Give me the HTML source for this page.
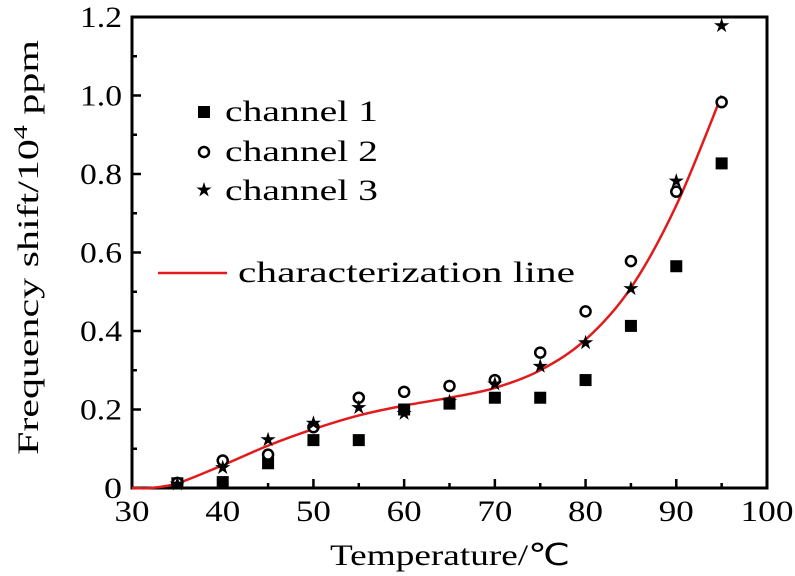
<!DOCTYPE html>
<html><head><meta charset="utf-8"><style>
body{margin:0;background:#fff;}
svg{display:block;font-family:"Liberation Serif",serif;}
</style></head><body>
<svg id="s" width="795" height="576" xmlns="http://www.w3.org/2000/svg"></svg>
<script>
const s=document.getElementById('s');
const X=v=>132+(v-30)*635/70, Y=v=>488-v*471/1.2;
let h='';
for(let v=30;v<=100;v+=5){const x=X(v);const L=v%10==0?9:5;h+=`<line x1="${x}" y1="488" x2="${x}" y2="${488-L}" stroke="#000" stroke-width="2.5"/>`;
 if(v%10==0){const w=v==100?53:35;h+=`<text x="${x-w/2}" y="521" font-size="30" textLength="${w}" lengthAdjust="spacingAndGlyphs">${v}</text>`;}}
for(let i=0;i<=12;i++){const v=i/10,y=Y(v);const L=i%2==0?9:5;h+=`<line x1="132" y1="${y}" x2="${132+L}" y2="${y}" stroke="#000" stroke-width="2.5"/>`;
 if(i%2==0){const t=i==0?'0':v.toFixed(1);const w=i==0?18:42;h+=`<text x="${122-w}" y="${y+10}" font-size="30" textLength="${w}" lengthAdjust="spacingAndGlyphs">${t}</text>`;}}
h+=`<rect x="132" y="17" width="635" height="471" fill="none" stroke="#000" stroke-width="3"/>`;
const lp=[[30,0],[32,0],[35,0.012],[40,0.058],[45,0.108],[50,0.15],[55,0.185],[60,0.21],[65,0.23],[70,0.255],[75,0.3],[80,0.378],[85,0.51],[90,0.72],[95,1.0]];
function cr(p){let o=`M${X(p[0][0])},${Y(p[0][1])}`;for(let i=0;i<p.length-1;i++){const p0=p[i-1]||p[i],p1=p[i],p2=p[i+1],p3=p[i+2]||p2;
 const c1=[X(p1[0])+(X(p2[0])-X(p0[0]))/6,Y(p1[1])+(Y(p2[1])-Y(p0[1]))/6],c2=[X(p2[0])-(X(p3[0])-X(p1[0]))/6,Y(p2[1])-(Y(p3[1])-Y(p1[1]))/6];
 o+=`C${c1[0].toFixed(1)},${c1[1].toFixed(1)} ${c2[0].toFixed(1)},${c2[1].toFixed(1)} ${X(p2[0]).toFixed(1)},${Y(p2[1]).toFixed(1)}`;}return o;}
h+=`<path d="${cr(lp)}" fill="none" stroke="#e31a1c" stroke-width="2.5"/>`;
const xs=[35,40,45,50,55,60,65,70,75,80,85,90,95];
const c1=[0.012,0.015,0.063,0.122,0.122,0.2,0.215,0.23,0.23,0.275,0.413,0.565,0.827];
const c2=[0.013,0.07,0.085,0.155,0.23,0.245,0.26,0.275,0.345,0.45,0.578,0.755,0.983];
const c3=[0.01,0.052,0.123,0.165,0.205,0.19,0.22,0.265,0.31,0.37,0.508,0.782,1.178];
const sq=(x,y)=>`<rect x="${x-6}" y="${y-6}" width="12" height="12" fill="#000"/>`;
const ci=(x,y)=>`<circle cx="${x}" cy="${y}" r="5" fill="#fff" stroke="#000" stroke-width="2.5"/>`;
const st=(x,y)=>{let p='';for(let k=0;k<10;k++){const r=k%2?3:8,a=-Math.PI/2+k*Math.PI/5;p+=(x+r*Math.cos(a)).toFixed(1)+','+(y+r*Math.sin(a)).toFixed(1)+' ';}return `<polygon points="${p}" fill="#000"/>`;};
xs.forEach((v,i)=>{h+=sq(X(v),Y(c1[i]));h+=ci(X(v),Y(c2[i]));h+=st(X(v),Y(c3[i]));});
const T=(x,y,w,t)=>`<text x="${x}" y="${y}" font-size="30" textLength="${w}" lengthAdjust="spacingAndGlyphs">${t}</text>`;
h+=sq(204,112)+T(225,121,153,'channel 1');
h+=ci(204,152)+T(225,161,153,'channel 2');
h+=st(204,190)+T(225,200,153,'channel 3');
h+=`<line x1="158" y1="273" x2="227" y2="273" stroke="#e31a1c" stroke-width="2.5"/>`+T(238,282,337,'characterization line');
h+=T(330,565,240,'Temperature/℃');
h+=`<text transform="translate(38,455) rotate(-90)" font-size="30" textLength="415" lengthAdjust="spacingAndGlyphs">Frequency shift/10<tspan dy="-11" font-size="20">4</tspan><tspan dy="11"> ppm</tspan></text>`;
s.innerHTML=h;
</script>
</body></html>
